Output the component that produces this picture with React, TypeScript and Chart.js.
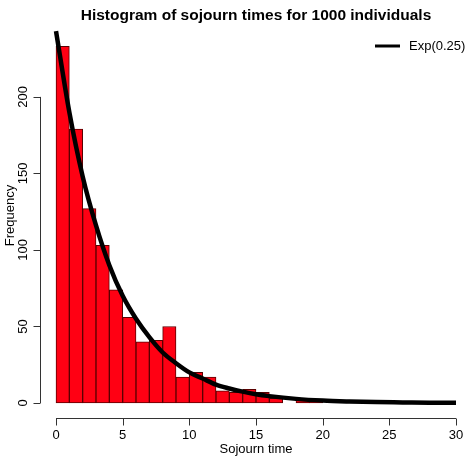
import React, { useEffect, useRef } from 'react';
import { Chart, registerables } from 'chart.js';

Chart.register(...registerables);

// histogram bins (width 1), left edges 0..19
const binStarts = [0, 1, 2, 3, 4, 5, 6, 7, 8, 9, 10, 11, 12, 13, 14, 15, 16, 17, 18, 19];
const binCounts = [233, 179, 127, 103, 74, 56, 40, 41, 50, 17, 20, 17, 8, 7, 9, 7, 3, null, 2, 2];

// Exp(0.25) curve
const curveX = [0, 1, 2, 3, 4, 5, 6, 7, 8, 9, 10, 11, 12, 13, 14, 15, 16, 18, 20, 22, 24, 26, 28, 30];
const curveY = [243, 190, 148, 116, 90, 70, 55, 43, 33, 26, 20, 16, 12, 9.5, 7.4, 5.7, 4.5, 2.7, 1.6, 1, 0.6, 0.4, 0.2, 0.1];

const xTicks = [0, 5, 10, 15, 20, 25, 30];
const yTicks = [0, 50, 100, 150, 200];

const FONT = '"Liberation Sans", Arial, Helvetica, sans-serif';

// draws the R style axes, title and legend
const rStylePlugin = {
  id: 'rStyle',
  afterDraw(chart: any) {
    const { ctx, chartArea } = chart;
    const xs = chart.scales.x;
    const ys = chart.scales.y;
    ctx.save();
    ctx.strokeStyle = '#333';
    ctx.fillStyle = '#000';
    ctx.lineWidth = 1;

    // x axis
    const yb = chartArea.bottom + 0.5;
    ctx.beginPath();
    ctx.moveTo(xs.getPixelForValue(xTicks[0]), yb);
    ctx.lineTo(xs.getPixelForValue(xTicks[xTicks.length - 1]), yb);
    xTicks.forEach((t) => {
      const px = Math.round(xs.getPixelForValue(t)) + 0.5;
      ctx.moveTo(px, yb);
      ctx.lineTo(px, yb + 7);
    });
    ctx.stroke();
    ctx.font = `13px ${FONT}`;
    ctx.textAlign = 'center';
    ctx.textBaseline = 'middle';
    xTicks.forEach((t) => ctx.fillText(String(t), xs.getPixelForValue(t), yb + 17));
    ctx.fillText('Sojourn time', (chartArea.left + chartArea.right) / 2, yb + 31);

    // y axis
    const xl = chartArea.left + 0.5;
    ctx.beginPath();
    ctx.moveTo(xl, ys.getPixelForValue(yTicks[0]));
    ctx.lineTo(xl, ys.getPixelForValue(yTicks[yTicks.length - 1]));
    yTicks.forEach((t) => {
      const py = Math.round(ys.getPixelForValue(t)) + 0.5;
      ctx.moveTo(xl, py);
      ctx.lineTo(xl - 7, py);
    });
    ctx.stroke();
    yTicks.forEach((t) => {
      ctx.save();
      ctx.translate(xl - 17, ys.getPixelForValue(t));
      ctx.rotate(-Math.PI / 2);
      ctx.fillText(String(t), 0, 0);
      ctx.restore();
    });
    ctx.save();
    ctx.translate(xl - 30, (chartArea.top + chartArea.bottom) / 2);
    ctx.rotate(-Math.PI / 2);
    ctx.fillText('Frequency', 0, 0);
    ctx.restore();

    // title
    ctx.font = `bold 15.5px ${FONT}`;
    ctx.fillText('Histogram of sojourn times for 1000 individuals', (chartArea.left + chartArea.right) / 2, 16);

    // legend
    const ly = chartArea.top + 33;
    ctx.strokeStyle = '#000';
    ctx.lineWidth = 3;
    ctx.beginPath();
    ctx.moveTo(chartArea.right - 97, ly);
    ctx.lineTo(chartArea.right - 72, ly);
    ctx.stroke();
    ctx.font = `13px ${FONT}`;
    ctx.textAlign = 'left';
    ctx.fillText(chart.data.datasets[0].label, chartArea.right - 63, ly);
    ctx.restore();
  },
};

const App: React.FC = () => {
  const chartRef = useRef<HTMLCanvasElement | null>(null);
  const chartInstance = useRef<Chart | null>(null);

  useEffect(() => {
    if (!chartRef.current) return;
    const ctx = chartRef.current.getContext('2d');
    if (!ctx) return;
    if (chartInstance.current) chartInstance.current.destroy();

    chartInstance.current = new Chart(ctx, {
      type: 'bar',
      data: {
        datasets: [
          {
            type: 'line',
            label: 'Exp(0.25)',
            data: curveX.map((x, i) => ({ x, y: curveY[i] })),
            borderColor: '#000',
            borderWidth: 4.5,
            pointRadius: 0,
            cubicInterpolationMode: 'monotone',
            fill: false,
            order: 0,
          } as any,
          {
            type: 'bar',
            label: 'Sojourn times',
            data: binStarts.map((x, i) => ({ x: x + 0.5, y: binCounts[i] })),
            backgroundColor: '#ff0013',
            borderColor: '#5a0000',
            borderWidth: 1,
            borderSkipped: false,
            barPercentage: 1,
            categoryPercentage: 1,
            order: 1,
          } as any,
        ],
      },
      options: {
        responsive: false,
        animation: false,
        layout: { padding: { left: 40, right: 2, top: 13, bottom: 48 } },
        plugins: {
          legend: { display: false },
          title: { display: false },
          tooltip: { enabled: false },
        },
        scales: {
          x: { type: 'linear', min: -1.2, max: 31.2, offset: false, display: false },
          y: { type: 'linear', min: -9.8, max: 254.8, display: false },
        },
      },
      plugins: [rStylePlugin],
    });

    return () => {
      if (chartInstance.current) {
        chartInstance.current.destroy();
        chartInstance.current = null;
      }
    };
  }, []);

  return (
    <div style={{ position: 'fixed', left: 0, top: 0, width: 474, height: 466, background: '#fff' }}>
      <canvas ref={chartRef} width={474} height={466} />
    </div>
  );
};

export default App;
